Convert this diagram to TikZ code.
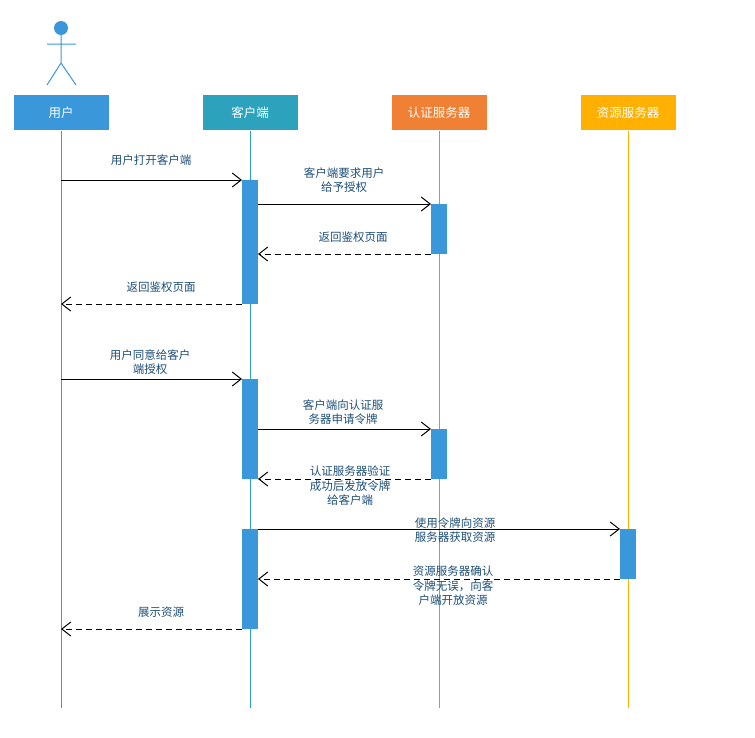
\documentclass[tikz,border=0pt]{standalone}
\usepackage{fontspec}
\setmainfont{Noto Sans CJK SC}
\usetikzlibrary{arrows.meta, positioning}
\definecolor{userblue}{HTML}{3A97DA}
\definecolor{clientteal}{HTML}{2CA2BD}
\definecolor{authorange}{HTML}{F08033}
\definecolor{resyellow}{HTML}{FFB000}
\definecolor{labeltext}{HTML}{1D4E78}

\begin{document}
\begin{tikzpicture}[
        x=1pt, y=-1pt,
        font=\fontsize{11.5}{14.5}\selectfont,
        line width=1pt,
        head/.style={minimum width=95pt, minimum height=35pt, inner sep=0pt, text=white, font=\fontsize{12.5}{14}\selectfont},
        bar/.style={fill=userblue, draw=none},
        msg/.style={-{Straight Barb[length=9pt,width=14pt]}, black},
        reply/.style={msg, dashed, dash pattern=on 6pt off 4pt},
        lbl/.style={text=labeltext, align=center, inner sep=1pt}
    ]
    \useasboundingbox (0,0) rectangle (755,737);

    % Actor
    \fill[userblue] (61,28) circle (7);
    \draw[userblue] (61,35) -- (61,63) (47,44) -- (76,44) (47,85) -- (61,63) -- (76,85);

    % Heads
    \node[head, fill=userblue] (user) at (61,112.5) {用户};
    \node[head, fill=clientteal] (client) at (250,112.5) {客户端};
    \node[head, fill=authorange] (auth) at (439,112.5) {认证服务器};
    \node[head, fill=resyellow] (res) at (628,112.5) {资源服务器};

    % Lifelines
    \coordinate (userend) at (61,708);
    \coordinate (clientend) at (250,708);
    \coordinate (authend) at (439,708);
    \coordinate (resend) at (628,708);
    \draw[userblue] (user.south) -- (userend);
    \draw[clientteal] (client.south) -- (clientend);
    \draw[authorange] (auth.south) -- (authend);
    \draw[resyellow] (res.south) -- (resend);

    % Activations
    \fill[bar] (242,180) rectangle (258,304);
    \fill[bar] (431,204) rectangle (447,254);
    \fill[bar] (242,379) rectangle (258,479);
    \fill[bar] (431,429) rectangle (447,479);
    \fill[bar] (242,529) rectangle (258,629);
    \fill[bar] (620,529) rectangle (636,579);

    % Messages
    \coordinate (m1a) at (61,180);  \coordinate (m1b) at (242,180);
    \draw[msg] (m1a) -- (m1b);
    \node[lbl] (t1) at (151,160) {用户打开客户端};

    \coordinate (m2a) at (258,204); \coordinate (m2b) at (431,204);
    \draw[msg] (m2a) -- (m2b);
    \node[lbl] (t2) at (344,180) {客户端要求用户\\给予授权};

    \coordinate (m3a) at (431,254); \coordinate (m3b) at (258,254);
    \draw[reply] (m3a) -- (m3b);
    \node[lbl] (t3) at (353,237) {返回鉴权页面};

    \coordinate (m4a) at (242,304); \coordinate (m4b) at (61,304);
    \draw[reply] (m4a) -- (m4b);
    \node[lbl] (t4) at (161,287) {返回鉴权页面};

    \coordinate (m5a) at (61,379);  \coordinate (m5b) at (242,379);
    \draw[msg] (m5a) -- (m5b);
    \node[lbl] (t5) at (150,362) {用户同意给客户\\端授权};

    \coordinate (m6a) at (258,429); \coordinate (m6b) at (431,429);
    \draw[msg] (m6a) -- (m6b);
    \node[lbl] (t6) at (343,412) {客户端向认证服\\务器申请令牌};

    \coordinate (m7a) at (431,479); \coordinate (m7b) at (258,479);
    \draw[reply] (m7a) -- (m7b);
    \node[lbl] (t7) at (350,486) {认证服务器验证\\成功后发放令牌\\给客户端};

    \coordinate (m8a) at (258,529); \coordinate (m8b) at (620,529);
    \draw[msg] (m8a) -- (m8b);
    \node[lbl] (t8) at (455,530) {使用令牌向资源\\服务器获取资源};

    \coordinate (m9a) at (620,579); \coordinate (m9b) at (258,579);
    \draw[reply] (m9a) -- (m9b);
    \node[lbl] (t9) at (453,586) {资源服务器确认\\令牌无误，向客\\户端开放资源};

    \coordinate (m10a) at (242,629); \coordinate (m10b) at (61,629);
    \draw[reply] (m10a) -- (m10b);
    \node[lbl] (t10) at (161,612) {展示资源};
\end{tikzpicture}
\end{document}
